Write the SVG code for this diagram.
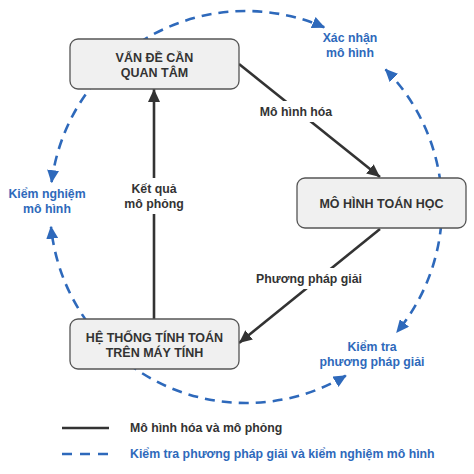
<svg xmlns="http://www.w3.org/2000/svg" width="474" height="474" viewBox="0 0 474 474">
<style>
.box{fill:#f0f0f0;stroke:#555;stroke-width:1.3}
.nt{font-family:"Liberation Sans",Arial,sans-serif;font-weight:bold;font-size:12.5px;fill:#333;text-anchor:middle}
.lt{font-family:"Liberation Sans",Arial,sans-serif;font-weight:bold;font-size:12.3px;fill:#333;text-anchor:middle}
.bt{font-family:"Liberation Sans",Arial,sans-serif;font-weight:bold;font-size:12.3px;fill:#2e69bb;text-anchor:middle}
.solid{fill:none;stroke:#333;stroke-width:2.6}
.dash{fill:none;stroke:#2e69bb;stroke-width:2.6;stroke-dasharray:10 7}
.bg{fill:#fff}
</style>
<defs>
<marker id="ad" markerUnits="userSpaceOnUse" markerWidth="14" markerHeight="12" viewBox="0 0 14 12" refX="13" refY="6" orient="auto-start-reverse">
<path d="M0,0 L13,6 L0,12 z" fill="#333"/>
</marker>
<marker id="ab" markerUnits="userSpaceOnUse" markerWidth="14" markerHeight="12" viewBox="0 0 14 12" refX="12" refY="6" orient="auto-start-reverse">
<path d="M0,0 L13,6 L0,12 z" fill="#2e69bb"/>
</marker>
</defs>
<g id="connectors">
<path class="dash" d="M51.6 182.1 A196 196 0 0 1 324.2 27.3" marker-start="url(#ab)" marker-end="url(#ab)"/>
<path class="dash" d="M385.5 69.4 A196 196 0 0 1 396.8 332.2" marker-start="url(#ab)" marker-end="url(#ab)"/>
<path class="dash" d="M345.8 375.7 A196 196 0 0 1 51.0 226.8" marker-start="url(#ab)" marker-end="url(#ab)"/>
<path class="solid" d="M239 64 L380 177" marker-end="url(#ad)"/>
<path class="solid" d="M380 229 L239 343" marker-end="url(#ad)"/>
<path class="solid" d="M154 319 L154 89" marker-end="url(#ad)"/>
<rect class="bg" x="258" y="101" width="78" height="21"/>
<text class="lt" x="296" y="116">Mô hình hóa</text>
<rect class="bg" x="256" y="268" width="108" height="21"/>
<text class="lt" x="309" y="283">Phương pháp giải</text>
<rect class="bg" x="120" y="178" width="70" height="36"/>
<text class="lt" x="154" y="193">Kết quả</text>
<text class="lt" x="154" y="208">mô phỏng</text>
<text class="bt" x="350" y="42">Xác nhận</text>
<text class="bt" x="350" y="57">mô hình</text>
<text class="bt" x="47" y="198">Kiểm nghiệm</text>
<text class="bt" x="47" y="213">mô hình</text>
<text class="bt" x="372" y="351">Kiểm tra</text>
<text class="bt" x="372" y="366">phương pháp giải</text>
</g>
<g id="node1">
<rect class="box" x="70" y="39" width="169" height="50" rx="8"/>
<text class="nt" x="154.5" y="61.5">VẤN ĐỀ CẦN</text>
<text class="nt" x="154.5" y="76.5">QUAN TÂM</text>
</g>
<g id="node2">
<rect class="box" x="297" y="178" width="169" height="50" rx="8"/>
<text class="nt" x="381.5" y="207.5">MÔ HÌNH TOÁN HỌC</text>
</g>
<g id="node3">
<rect class="box" x="70" y="319" width="169" height="50" rx="8"/>
<text class="nt" x="154.5" y="341.5">HỆ THỐNG TÍNH TOÁN</text>
<text class="nt" x="154.5" y="356.5">TRÊN MÁY TÍNH</text>
</g>
<g id="legend">
<line class="solid" x1="62" y1="428" x2="109" y2="428"/>
<text class="lt" x="130" y="432" style="text-anchor:start">Mô hình hóa và mô phỏng</text>
<line class="dash" x1="62" y1="454" x2="108" y2="454" style="stroke-dasharray:10 8"/>
<text class="bt" x="130" y="458" style="text-anchor:start">Kiểm tra phương pháp giải và kiểm nghiệm mô hình</text>
</g>
</svg>
